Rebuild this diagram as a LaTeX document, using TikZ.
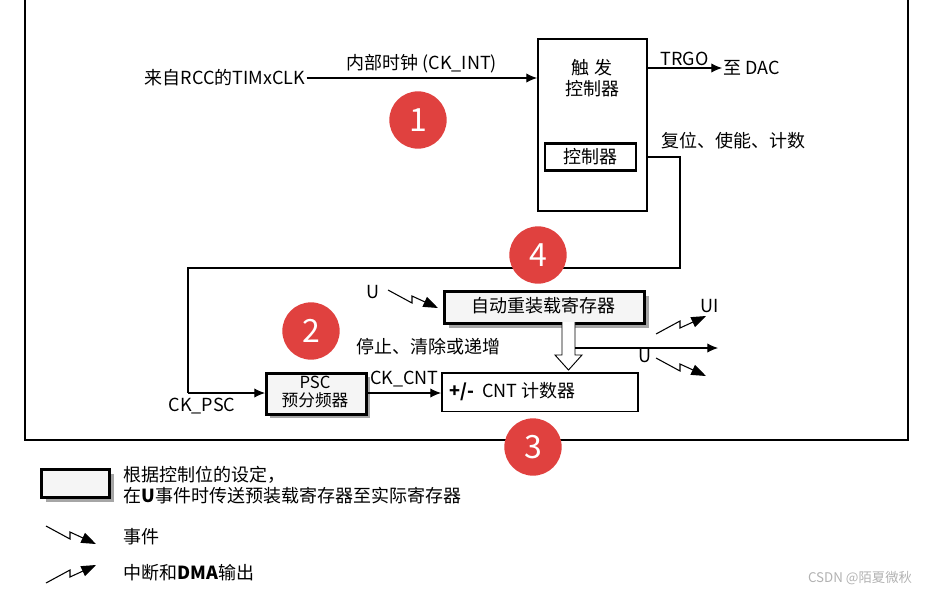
\documentclass[tikz,border=0pt]{standalone}
\usepackage{fontspec}
\setmainfont{Noto Sans CJK SC}
\usetikzlibrary{arrows.meta}
\definecolor{badge}{HTML}{E0413F}
\tikzset{
  x=0.75pt,y=-0.75pt,
  txt/.style={font=\fontsize{13.5}{16}\selectfont,inner sep=1pt},
  box/.style={draw,line width=1.2pt,fill=white,inner sep=0pt},
  shbox/.style={draw,line width=2pt,fill=gray!8,inner sep=0pt},
  conn/.style={line width=0.8pt,-{Latex[length=8pt,width=7pt]}},
  badgec/.style={circle,fill=badge,text=white,minimum size=43pt,inner sep=0pt,font=\fontsize{24}{24}\selectfont},
  pics/evt/.style={code={\draw[line width=0.8pt,-{Triangle[length=11pt,width=8pt]}] (0,0)--(24,13)--(24,6)--(50,18);}},
  pics/irq/.style={code={\draw[line width=0.8pt,-{Triangle[length=11pt,width=8pt]}] (0,0)--(24,-13)--(24,-6)--(50,-18);}}
}
\begin{document}
\begin{tikzpicture}
\useasboundingbox (0,0) rectangle (932,594);
% frame
\draw[line width=2.2pt] (25,0)--(25,440)--(908,440)--(908,0);
% trigger controller
\node[box,minimum width=82pt,minimum height=129pt,anchor=north west] (tc) at (537,38) {};
\node[txt,align=center] (tct) at (592,78) {触 发\\控制器};
\node[draw,line width=1.8pt,fill=white,minimum width=68pt,minimum height=20pt,txt] (ic) at (590.5,157) {控制器};
% input
\node[txt] (rcc) at (225,78) {来自RCC的TIMxCLK};
\draw[conn] (rcc.east) -- (rcc.east -| tc.west) node[midway,above,txt,yshift=2pt] {内部时钟 (CK\_INT)};
% TRGO
\coordinate (tg) at (647,68);
\node[txt,anchor=west] (dac) at (722,68) {至 DAC};
\draw[conn] (tg) -- (dac.west) node[midway,above,txt] {TRGO};
\node[txt,anchor=west] (rst) at (660,141) {复位、使能、计数};
% PSC
\fill[gray!70] (270,377) rectangle (370,418);
\node[shbox,minimum width=75pt,minimum height=31pt,anchor=north west,txt,align=center] (psc) at (265,372) {};
\node[txt,align=center,font=\fontsize{12.5}{13}\selectfont] at (315,392) {PSC\\预分频器};
% reset line
\coordinate (c1) at (680,157);
\coordinate (c2) at (680,268);
\coordinate (c3) at (188,268);
\coordinate (c4) at (188,393);
\draw[line width=0.8pt] (tc.east |- c1) -- (c1) -- (c2) -- (c3) -- (c4);
\draw[conn] (c4) -- (psc.west |- c4);
\node[txt] at (202,406) {CK\_PSC};
% CNT
\node[box,minimum width=147pt,minimum height=29pt,anchor=north west] (cnt) at (441,372) {};
\node[txt,anchor=west] at (448,392) {\textbf{+/-}\ \ CNT 计数器};
\draw[conn] (psc.east |- 0,393) -- (cnt.west |- 0,393) node[midway,above,txt,yshift=3pt] {CK\_CNT};
% ARR
\fill[gray!70] (449,296) rectangle (649,328);
\node[shbox,minimum width=150pt,minimum height=24pt,anchor=north west] (arr) at (443,290) {};
\node[txt] at (543,306) {自动重装载寄存器};
\node[txt] at (373,292) {U};
\pic at (388,290) {evt};
% hollow arrow
\draw[line width=0.7pt,fill=white] (562,322)--(562,355)--(555,355)--(568.5,370)--(582,355)--(575,355)--(575,322);
\coordinate (o1) at (575,348);
\coordinate (o2) at (718,348);
\draw[conn] (o1)--(o2);
\pic at (656,334) {irq};
\node[txt] at (710,306) {UI};
\pic at (656,358) {evt};
\node[txt] at (645,356) {U};
\node[txt] at (428,347) {停止、清除或递增};
% badges
\node[badgec] (b1) at (418,120) {1};
\node[badgec] (b2) at (311,331) {2};
\node[badgec] (b3) at (533,447) {3};
\node[badgec] (b4) at (538,255) {4};
% legend
\fill[gray!70] (46,474) rectangle (114,502);
\node[shbox,minimum width=51pt,minimum height=21pt,anchor=north west] (lg) at (40,468) {};
\node[txt,anchor=west,align=left] at (122,485) {根据控制位的设定，\\在\textbf{U}事件时传送预装载寄存器至实际寄存器};
\pic at (46,526) {evt};
\node[txt,anchor=west] at (122,537) {事件};
\pic at (46,583) {irq};
\node[txt,anchor=west] at (122,573) {中断和\textbf{DMA}输出};
\node[txt,text=gray!60,font=\fontsize{10}{12}\selectfont] at (860,578) {CSDN @陌夏微秋};
\end{tikzpicture}
\end{document}
